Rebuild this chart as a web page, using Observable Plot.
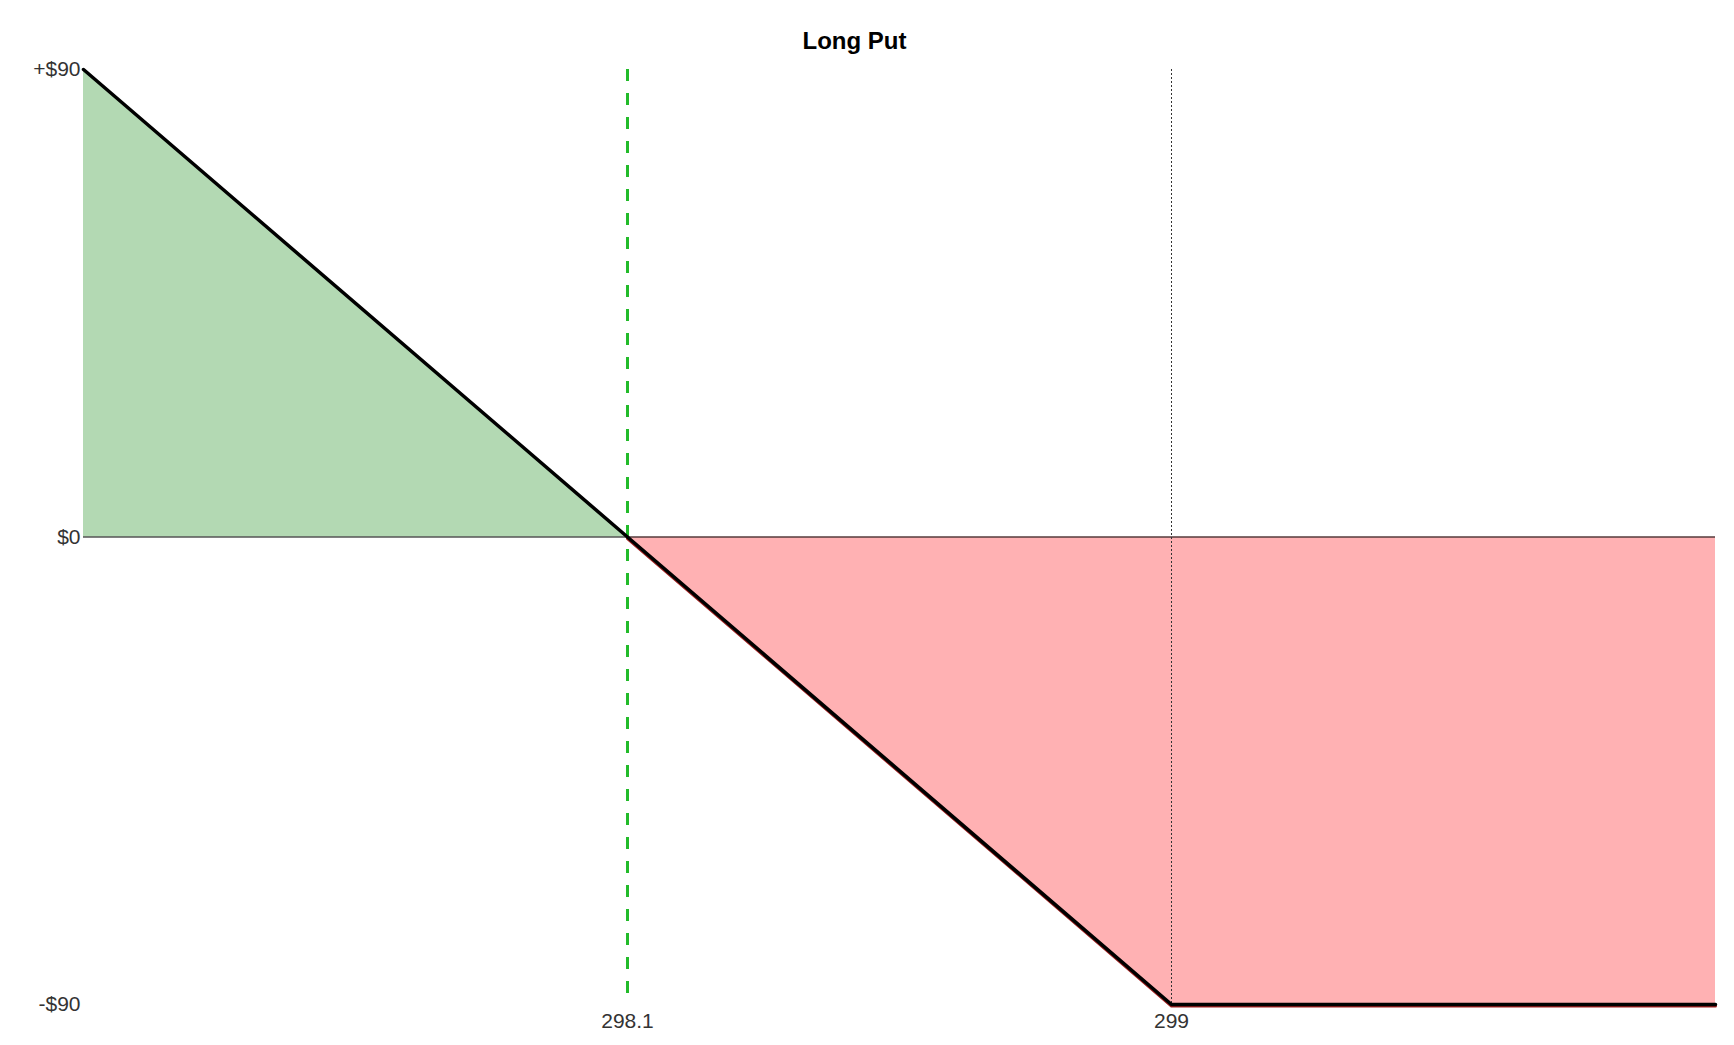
<!DOCTYPE html>
<html>
<head>
<meta charset="utf-8">
<script src="https://cdn.jsdelivr.net/npm/d3@7"></script>
<script src="https://cdn.jsdelivr.net/npm/@observablehq/plot@0.6"></script>
<style>
  html, body { margin: 0; padding: 0; background: #fff; }
  #chart svg { display: block; }
</style>
</head>
<body>
<div id="chart"></div>
<script>
const title = "Long Put";
const prices = [297.2, 298.1, 299, 299.9];
const pnl = [90, 0, -90, -90];
const breakeven = 298.1;
const strike = 299;
const yTicks = [-90, 0, 90];
const yTickLabels = ["-$90", "$0", "+$90"];
const xTicks = [298.1, 299];
const xTickLabels = ["298.1", "299"];

const rows = prices.map((p, i) => ({price: p, pnl: pnl[i]}));
const gainRows = rows.filter(d => d.price <= breakeven);
const lossRows = rows.filter(d => d.price >= breakeven);

const chart = Plot.plot({
  width: 1734,
  height: 1045,
  marginTop: 69,
  marginBottom: 41,
  marginLeft: 83,
  marginRight: 19,
  style: {fontFamily: "'Liberation Sans', Arial, sans-serif", fontSize: "21px", color: "#333", background: "#fff"},
  x: {domain: [297.2, 299.9]},
  y: {domain: [-90, 90]},
  marks: [
    Plot.areaY(gainRows, {x: "price", y1: 0, y2: "pnl", fill: "#b3d9b3"}),
    Plot.areaY(lossRows, {x: "price", y1: 0, y2: "pnl", fill: "#ffb1b3"}),
    Plot.ruleY([0], {stroke: "#000", strokeWidth: 1}),
    Plot.ruleX([breakeven], {y1: 90, y2: -90, stroke: "#22bb2a", strokeWidth: 3, strokeDasharray: "12,12"}),
    Plot.ruleX([strike], {y1: 90, y2: -90, stroke: "#333", strokeWidth: 1, strokeDasharray: "2,2"}),
    Plot.line(lossRows, {x: "price", y: "pnl", stroke: "#a02020", strokeWidth: 3, dy: 1.5}),
    Plot.line(rows, {x: "price", y: "pnl", stroke: "#000", strokeWidth: 3.5}),
    Plot.axisY(yTicks, {tickSize: 0, tickPadding: 3, tickFormat: (d) => yTickLabels[yTicks.indexOf(d)], label: null, fill: "#333", fontSize: 21}),
    Plot.axisX(xTicks, {tickSize: 0, tickPadding: 9, tickFormat: (d) => xTickLabels[xTicks.indexOf(d)], label: null, fill: "#333", fontSize: 21}),
    Plot.text([title], {frameAnchor: "top", dx: -45, dy: -28, lineAnchor: "middle", fontSize: 24, fontWeight: "bold", fill: "#000"})
  ]
});
document.getElementById("chart").appendChild(chart);
</script>
</body>
</html>
